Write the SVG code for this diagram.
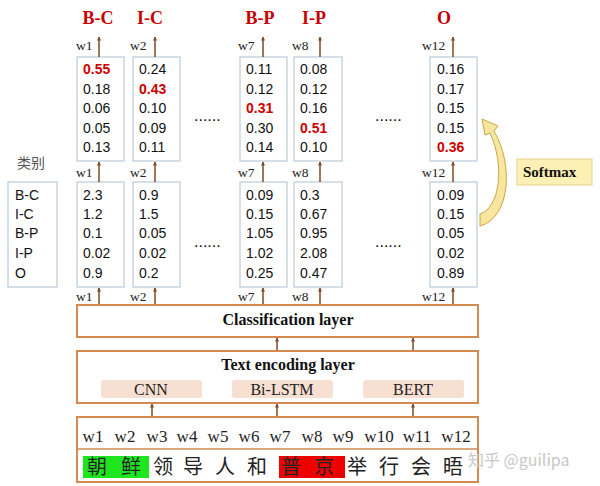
<svg xmlns="http://www.w3.org/2000/svg" width="600" height="486" viewBox="0 0 600 486">
<defs>
<marker id="ah" viewBox="0 0 10 10" refX="9" refY="5" markerWidth="4" markerHeight="5" orient="auto" markerUnits="userSpaceOnUse">
<path d="M0,0 L10,5 L0,10 Z" fill="#7b4a26"/>
</marker>
<style>
.vbox{fill:#fff;stroke:#b9cad8;stroke-width:1.2}
.lbox{fill:#fff;stroke:#d28a52;stroke-width:2}
.sub{fill:#f7dfd1;stroke:none}
.num{font-family:"Liberation Sans",Arial,sans-serif;font-size:14px;fill:#111}
.red{fill:#d00000;font-weight:bold}
.hdr{font-family:"Liberation Serif","Times New Roman",serif;font-size:18px;font-weight:bold;fill:#c80000;text-anchor:middle}
.w{font-family:"Liberation Serif","Times New Roman",serif;font-size:13.5px;fill:#222}
.lay{font-family:"Liberation Serif","Times New Roman",serif;font-size:16px;font-weight:bold;fill:#111;text-anchor:middle}
.mod{font-family:"Liberation Serif","Times New Roman",serif;font-size:16px;fill:#222;text-anchor:middle}
.wr{font-family:"Liberation Serif","Times New Roman",serif;font-size:17px;fill:#222;text-anchor:middle}
.zh{font-family:"Noto Sans CJK SC",sans-serif;font-size:20px;fill:#222;text-anchor:middle}
.dots{font-family:"Liberation Sans",Arial,sans-serif;font-size:16px;fill:#111}
.arr{stroke:#7b4a26;stroke-width:1.5;fill:none;marker-end:url(#ah)}
</style>
</defs>
<rect width="600" height="486" fill="#fff"/>

<!-- headers -->
<g id="headers">
<text class="hdr" x="98" y="24">B-C</text>
<text class="hdr" x="150" y="24">I-C</text>
<text class="hdr" x="260" y="24">B-P</text>
<text class="hdr" x="314" y="24">I-P</text>
<text class="hdr" x="444" y="24">O</text>
</g>

<!-- upper (softmax output) columns -->
<g id="out-w1">
<rect class="vbox" x="77" y="57" width="47" height="104"/>
<text class="num" x="83"><tspan class="red" x="83" y="74">0.55</tspan><tspan x="83" y="94">0.18</tspan><tspan x="83" y="113">0.06</tspan><tspan x="83" y="133">0.05</tspan><tspan x="83" y="152">0.13</tspan></text>
</g>
<g id="out-w2">
<rect class="vbox" x="133" y="57" width="47" height="104"/>
<text class="num"><tspan x="139" y="74">0.24</tspan><tspan class="red" x="139" y="94">0.43</tspan><tspan x="139" y="113">0.10</tspan><tspan x="139" y="133">0.09</tspan><tspan x="139" y="152">0.11</tspan></text>
</g>
<g id="out-w7">
<rect class="vbox" x="240" y="57" width="47" height="104"/>
<text class="num"><tspan x="246" y="74">0.11</tspan><tspan x="246" y="94">0.12</tspan><tspan class="red" x="246" y="113">0.31</tspan><tspan x="246" y="133">0.30</tspan><tspan x="246" y="152">0.14</tspan></text>
</g>
<g id="out-w8">
<rect class="vbox" x="294" y="57" width="48" height="104"/>
<text class="num"><tspan x="300" y="74">0.08</tspan><tspan x="300" y="94">0.12</tspan><tspan x="300" y="113">0.16</tspan><tspan class="red" x="300" y="133">0.51</tspan><tspan x="300" y="152">0.10</tspan></text>
</g>
<g id="out-w12">
<rect class="vbox" x="430" y="57" width="47" height="104"/>
<text class="num"><tspan x="437" y="74">0.16</tspan><tspan x="437" y="94">0.17</tspan><tspan x="437" y="113">0.15</tspan><tspan x="437" y="133">0.15</tspan><tspan class="red" x="437" y="152">0.36</tspan></text>
</g>

<!-- lower (scores) columns -->
<g id="cat">
<text x="17" y="168" style="font-family:'Noto Sans CJK SC',sans-serif;font-size:14px;fill:#555">类别</text>
<rect class="vbox" x="8" y="182" width="49" height="105"/>
<text class="num"><tspan x="15" y="200">B-C</tspan><tspan x="15" y="219">I-C</tspan><tspan x="15" y="238">B-P</tspan><tspan x="15" y="258">I-P</tspan><tspan x="15" y="278">O</tspan></text>
</g>
<g id="score-w1">
<rect class="vbox" x="77" y="182" width="47" height="105"/>
<text class="num"><tspan x="83" y="200">2.3</tspan><tspan x="83" y="219">1.2</tspan><tspan x="83" y="238">0.1</tspan><tspan x="83" y="258">0.02</tspan><tspan x="83" y="278">0.9</tspan></text>
</g>
<g id="score-w2">
<rect class="vbox" x="133" y="182" width="47" height="105"/>
<text class="num"><tspan x="139" y="200">0.9</tspan><tspan x="139" y="219">1.5</tspan><tspan x="139" y="238">0.05</tspan><tspan x="139" y="258">0.02</tspan><tspan x="139" y="278">0.2</tspan></text>
</g>
<g id="score-w7">
<rect class="vbox" x="240" y="182" width="47" height="105"/>
<text class="num"><tspan x="246" y="200">0.09</tspan><tspan x="246" y="219">0.15</tspan><tspan x="246" y="238">1.05</tspan><tspan x="246" y="258">1.02</tspan><tspan x="246" y="278">0.25</tspan></text>
</g>
<g id="score-w8">
<rect class="vbox" x="294" y="182" width="48" height="105"/>
<text class="num"><tspan x="300" y="200">0.3</tspan><tspan x="300" y="219">0.67</tspan><tspan x="300" y="238">0.95</tspan><tspan x="300" y="258">2.08</tspan><tspan x="300" y="278">0.47</tspan></text>
</g>
<g id="score-w12">
<rect class="vbox" x="430" y="182" width="47" height="105"/>
<text class="num"><tspan x="437" y="200">0.09</tspan><tspan x="437" y="219">0.15</tspan><tspan x="437" y="238">0.05</tspan><tspan x="437" y="258">0.02</tspan><tspan x="437" y="278">0.89</tspan></text>
</g>

<g id="ellipses">
<text class="dots" x="194" y="121">......</text>
<text class="dots" x="375" y="121">......</text>
<text class="dots" x="194" y="247">......</text>
<text class="dots" x="375" y="247">......</text>
</g>

<!-- layers -->
<g id="classification">
<rect class="lbox" x="77" y="305" width="401" height="32"/>
<text class="lay" x="288" y="325">Classification layer</text>
</g>
<g id="encoding">
<rect class="lbox" x="77" y="351" width="401" height="52"/>
<text class="lay" x="288" y="370">Text encoding layer</text>
<rect class="sub" x="101" y="380" width="101" height="18" rx="3"/>
<text class="mod" x="151" y="395">CNN</text>
<rect class="sub" x="232" y="380" width="101" height="18" rx="3"/>
<text class="mod" x="282" y="395">Bi-LSTM</text>
<rect class="sub" x="363" y="380" width="101" height="18" rx="3"/>
<text class="mod" x="413" y="395">BERT</text>
</g>
<g id="input">
<rect class="lbox" x="77" y="417" width="401" height="65"/>
<line x1="77" y1="449" x2="478" y2="449" stroke="#d28a52" stroke-width="1.5"/>
<text class="wr" y="442"><tspan x="93">w1</tspan><tspan x="125">w2</tspan><tspan x="157">w3</tspan><tspan x="187">w4</tspan><tspan x="218">w5</tspan><tspan x="249">w6</tspan><tspan x="280">w7</tspan><tspan x="312">w8</tspan><tspan x="343">w9</tspan><tspan x="379">w10</tspan><tspan x="417">w11</tspan><tspan x="456">w12</tspan></text>
<rect x="83" y="456" width="66" height="22" fill="#1ee61e"/>
<rect x="279" y="456" width="66" height="22" fill="#ee0000"/>
<text class="zh" y="474"><tspan x="97">朝</tspan><tspan x="131">鲜</tspan><tspan x="163">领</tspan><tspan x="193">导</tspan><tspan x="225">人</tspan><tspan x="257">和</tspan><tspan x="291">普</tspan><tspan x="324">京</tspan><tspan x="357">举</tspan><tspan x="389">行</tspan><tspan x="421">会</tspan><tspan x="453">晤</tspan></text>
</g>

<g id="softmax">
<rect x="517" y="159" width="75" height="26" fill="#fdf0b5" stroke="#ead08a" stroke-width="1"/>
<text x="523" y="177" style="font-family:'Liberation Serif','Times New Roman',serif;font-size:15px;font-weight:bold;fill:#111">Softmax</text>
</g>

<!-- connectors -->
<g id="connectors">
<g class="w">
<text x="76" y="50">w1</text><text x="130" y="50">w2</text><text x="238" y="50">w7</text><text x="292" y="50">w8</text><text x="422" y="50">w12</text>
<text x="76" y="177">w1</text><text x="130" y="177">w2</text><text x="238" y="177">w7</text><text x="292" y="177">w8</text><text x="422" y="177">w12</text>
<text x="76" y="301">w1</text><text x="130" y="301">w2</text><text x="238" y="301">w7</text><text x="292" y="301">w8</text><text x="422" y="301">w12</text>
</g>
<line class="arr" x1="99" y1="57" x2="99" y2="37"/>
<line class="arr" x1="155" y1="57" x2="155" y2="37"/>
<line class="arr" x1="263" y1="57" x2="263" y2="37"/>
<line class="arr" x1="320" y1="57" x2="320" y2="37"/>
<line class="arr" x1="453" y1="57" x2="453" y2="37"/>
<line class="arr" x1="99" y1="182" x2="99" y2="162"/>
<line class="arr" x1="155" y1="182" x2="155" y2="162"/>
<line class="arr" x1="263" y1="182" x2="263" y2="162"/>
<line class="arr" x1="320" y1="182" x2="320" y2="162"/>
<line class="arr" x1="453" y1="182" x2="453" y2="162"/>
<line class="arr" x1="99" y1="304" x2="99" y2="288"/>
<line class="arr" x1="155" y1="304" x2="155" y2="288"/>
<line class="arr" x1="263" y1="304" x2="263" y2="288"/>
<line class="arr" x1="320" y1="304" x2="320" y2="288"/>
<line class="arr" x1="453" y1="304" x2="453" y2="288"/>
<line class="arr" x1="277" y1="350" x2="277" y2="338"/>
<line class="arr" x1="413" y1="350" x2="413" y2="338"/>
<line class="arr" x1="152" y1="416" x2="152" y2="404"/>
<line class="arr" x1="277" y1="416" x2="277" y2="404"/>
<line class="arr" x1="413" y1="416" x2="413" y2="404"/>
<path d="M480,226 C510,218 514,165 494,131 L498,126 L482,119 L485,135 L490,133 C505,165 500,208 480,214 Z" fill="#f8e6a0" stroke="#c9a640" stroke-width="1"/>
</g>

<text x="468" y="466" style="font-family:'Noto Sans CJK SC',sans-serif;font-size:16px;fill:#c8c8c8">知乎 @guilipa</text>
</svg>
